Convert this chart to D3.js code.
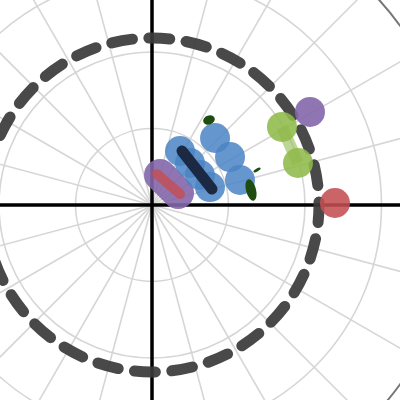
<!DOCTYPE html>
<html>
<head>
<meta charset="utf-8">
<script src="https://cdn.jsdelivr.net/npm/d3@7"></script>
<style>
  html, body { margin: 0; padding: 0; background: #fff; }
  svg { display: block; }
</style>
</head>
<body>
<div id="chart"></div>
<script>
var width = 400,
    height = 400,
    cx = 152,
    cy = 205,
    unit = 76.5;

// grid
var ringValues = [1, 2, 3];
var outerRing = 4;
var spokeAngles = d3.range(0, 360, 15);

// dashed circle radius
var dashedRadius = [2.183];

// single markers
var redPoints = [[2.392, 0.026]];
var purplePoints = [[2.065, 1.216]];
var greenPoints = [[1.699, 1.020], [1.908, 0.549]];
var bluePointsRight = [[0.824, 0.876], [1.020, 0.627], [1.150, 0.327]];
var bluePointsLeft = [[0.366, 0.706], [0.497, 0.549], [0.627, 0.392], [0.758, 0.235]];

// thick segments
var navyLine = [[0.392, 0.706], [0.784, 0.209]];
var purpleBand = [[0.105, 0.392], [0.340, 0.157]];
var redLine = [[0.065, 0.405], [0.366, 0.144]];

// small dark green marks
var darkGreenMarks = [[0.745, 1.111, 6, 4.5, -20], [1.294, 0.196, 5, 11, -15], [1.373, 0.458, 4, 1.5, -30]];

var x = d3.scaleLinear().domain([0, 1]).range([cx, cx + unit]);
var y = d3.scaleLinear().domain([0, 1]).range([cy, cy - unit]);
var r = d3.scaleLinear().domain([0, 1]).range([0, unit]);

var svg = d3.select("#chart")
    .append("svg")
    .attr("width", width)
    .attr("height", height);

var grid = svg.append("g");

grid.selectAll("line.spoke")
    .data(spokeAngles)
    .enter()
    .append("line")
    .attr("class", "spoke")
    .attr("x1", x(0))
    .attr("y1", y(0))
    .attr("x2", function (d) { return x(outerRing * Math.cos(d * Math.PI / 180)); })
    .attr("y2", function (d) { return y(outerRing * Math.sin(d * Math.PI / 180)); })
    .style("stroke", "#d6d6d6")
    .style("stroke-width", 1.6);

grid.selectAll("circle.ring")
    .data(ringValues)
    .enter()
    .append("circle")
    .attr("class", "ring")
    .attr("cx", x(0))
    .attr("cy", y(0))
    .attr("r", function (d) { return r(d); })
    .style("fill", "none")
    .style("stroke", "#d6d6d6")
    .style("stroke-width", 1.6);

grid.append("circle")
    .attr("cx", x(0))
    .attr("cy", y(0))
    .attr("r", r(outerRing))
    .style("fill", "none")
    .style("stroke", "#777")
    .style("stroke-width", 2);

// axes
svg.append("line")
    .attr("x1", 0).attr("x2", width)
    .attr("y1", y(0)).attr("y2", y(0))
    .style("stroke", "#000")
    .style("stroke-width", 3.5);

svg.append("line")
    .attr("x1", x(0)).attr("x2", x(0))
    .attr("y1", 0).attr("y2", height)
    .style("stroke", "#000")
    .style("stroke-width", 3.5);

// dashed circle
svg.selectAll("circle.dashed")
    .data(dashedRadius)
    .enter()
    .append("circle")
    .attr("class", "dashed")
    .attr("cx", x(0))
    .attr("cy", y(0))
    .attr("r", function (d) { return r(d); })
    .style("fill", "none")
    .style("stroke", "#3a3a3a")
    .style("stroke-opacity", 0.92)
    .style("stroke-width", 11)
    .style("stroke-linecap", "round")
    .style("stroke-dasharray", function (d) {
        var period = 2 * Math.PI * r(d) / 28;
        return "21," + (period - 21);
    })
    .style("stroke-dashoffset", 3.5);

var line = d3.line()
    .x(function (d) { return x(d[0]); })
    .y(function (d) { return y(d[1]); });

// purple band with red line
svg.append("path")
    .attr("d", line(purpleBand))
    .style("fill", "none")
    .style("stroke", "#8466ab")
    .style("stroke-opacity", 0.9)
    .style("stroke-width", 32)
    .style("stroke-linecap", "round");

svg.append("path")
    .attr("d", line(redLine))
    .style("fill", "none")
    .style("stroke", "#c44e52")
    .style("stroke-opacity", 0.8)
    .style("stroke-width", 10)
    .style("stroke-linecap", "round");

// blue groups
svg.selectAll("circle.blue")
    .data(bluePointsLeft.concat(bluePointsRight))
    .enter()
    .append("circle")
    .attr("class", "blue")
    .attr("cx", function (d) { return x(d[0]); })
    .attr("cy", function (d) { return y(d[1]); })
    .attr("r", 15)
    .style("fill", "#4a84c4")
    .style("fill-opacity", 0.85);

svg.append("path")
    .attr("d", line(navyLine))
    .style("fill", "none")
    .style("stroke", "#1b2a42")
    .style("stroke-width", 11)
    .style("stroke-linecap", "round");

svg.selectAll("ellipse.mark")
    .data(darkGreenMarks)
    .enter()
    .append("ellipse")
    .attr("class", "mark")
    .attr("cx", function (d) { return x(d[0]); })
    .attr("cy", function (d) { return y(d[1]); })
    .attr("rx", function (d) { return d[2]; })
    .attr("ry", function (d) { return d[3]; })
    .attr("transform", function (d) { return "rotate(" + d[4] + "," + x(d[0]) + "," + y(d[1]) + ")"; })
    .style("fill", "#1f4d0f");

// green pair
svg.append("path")
    .attr("d", line(greenPoints))
    .style("fill", "none")
    .style("stroke", "#92bb4f")
    .style("stroke-opacity", 0.6)
    .style("stroke-width", 12);

svg.selectAll("circle.green")
    .data(greenPoints)
    .enter()
    .append("circle")
    .attr("class", "green")
    .attr("cx", function (d) { return x(d[0]); })
    .attr("cy", function (d) { return y(d[1]); })
    .attr("r", 15)
    .style("fill", "#8fba4a")
    .style("fill-opacity", 0.88);

svg.selectAll("circle.purple")
    .data(purplePoints)
    .enter()
    .append("circle")
    .attr("class", "purple")
    .attr("cx", function (d) { return x(d[0]); })
    .attr("cy", function (d) { return y(d[1]); })
    .attr("r", 15)
    .style("fill", "#8466ab")
    .style("fill-opacity", 0.9);

svg.selectAll("circle.red")
    .data(redPoints)
    .enter()
    .append("circle")
    .attr("class", "red")
    .attr("cx", function (d) { return x(d[0]); })
    .attr("cy", function (d) { return y(d[1]); })
    .attr("r", 15)
    .style("fill", "#c44e52")
    .style("fill-opacity", 0.88);
</script>
</body>
</html>
